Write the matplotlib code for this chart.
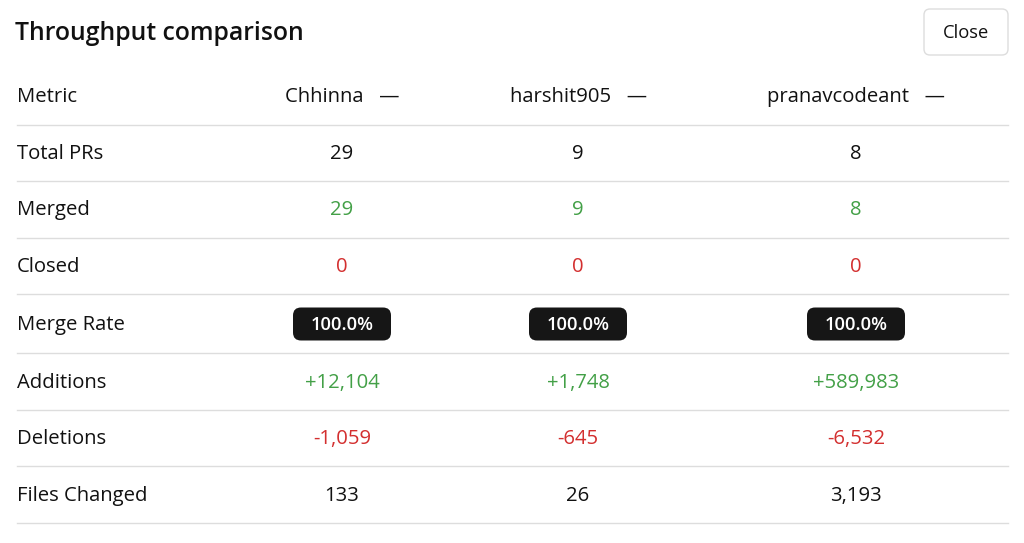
import matplotlib
matplotlib.use("Agg")
import matplotlib.pyplot as plt
from matplotlib.patches import FancyBboxPatch

title = "Throughput comparison"
users = ["Chhinna", "harshit905", "pranavcodeant"]
metrics = ["Total PRs", "Merged", "Closed", "Merge Rate", "Additions", "Deletions", "Files Changed"]
total_prs = [29, 9, 8]
merged = [29, 9, 8]
closed = [0, 0, 0]
merge_rate = [100.0, 100.0, 100.0]
additions = [12104, 1748, 589983]
deletions = [1059, 645, 6532]
files_changed = [133, 26, 3193]

GREEN = "#43a047"
RED = "#d32f2f"
TXT = "#111111"
FONT = ["Open Sans", "DejaVu Sans"]
FS = 14.6

fig = plt.figure(figsize=(10.24, 5.43), dpi=100)
ax = fig.add_axes([0, 0, 1, 1])
ax.set_xlim(0, 1024)
ax.set_ylim(543, 0)
ax.axis("off")

ax.text(15, 33, title, fontsize=17.8, fontweight="semibold", color=TXT, va="center", ha="left", family=FONT)
# Close button
ax.add_patch(FancyBboxPatch((926, 11), 80, 44, boxstyle="round,pad=0,rounding_size=6",
                            fc="#e6e6e6", ec="none", zorder=1))
ax.add_patch(FancyBboxPatch((924, 9), 84, 46, boxstyle="round,pad=0,rounding_size=6",
                            fc="white", ec="#dddddd", lw=1, zorder=2))
ax.text(966, 33, "Close", fontsize=13.2, color=TXT, ha="center", va="center", family=FONT, zorder=3)

col_x = [342, 578, 856]
header_y = 97
row_y = [154, 210, 267, 325, 383, 439, 496]
line_y = [125, 181, 238, 294, 353, 410, 466, 523]

ax.text(17, header_y, "Metric", fontsize=FS, color=TXT, va="center", family=FONT)
for x, u in zip(col_x, users):
    ax.text(x, header_y, u + "   \u2014", fontsize=FS, color=TXT, ha="center", va="center", family=FONT)

for y in line_y:
    ax.plot([17, 1008], [y, y], color="#dddddd", lw=1)

for y, m in zip(row_y, metrics):
    ax.text(17, y, m, fontsize=FS, color=TXT, va="center", family=FONT)

def cell(i, j, s, color=TXT):
    ax.text(col_x[j], row_y[i], s, fontsize=FS, color=color, ha="center", va="center", family=FONT, zorder=3)

for j in range(3):
    cell(0, j, f"{total_prs[j]}")
    cell(1, j, f"{merged[j]}", GREEN)
    cell(2, j, f"{closed[j]}", RED)
    ax.add_patch(FancyBboxPatch((col_x[j] - 49, row_y[3] - 17.5), 98, 33,
                                boxstyle="round,pad=0,rounding_size=8", fc="#161616", ec="none", zorder=2))
    ax.text(col_x[j], row_y[3], f"{merge_rate[j]:.1f}%", fontsize=13.2, color="white", fontweight="semibold",
            ha="center", va="center", family=FONT, zorder=3)
    cell(4, j, f"+{additions[j]:,}", GREEN)
    cell(5, j, f"-{deletions[j]:,}", RED)
    cell(6, j, f"{files_changed[j]:,}")

fig.savefig("out.png", dpi=100, facecolor="white")
